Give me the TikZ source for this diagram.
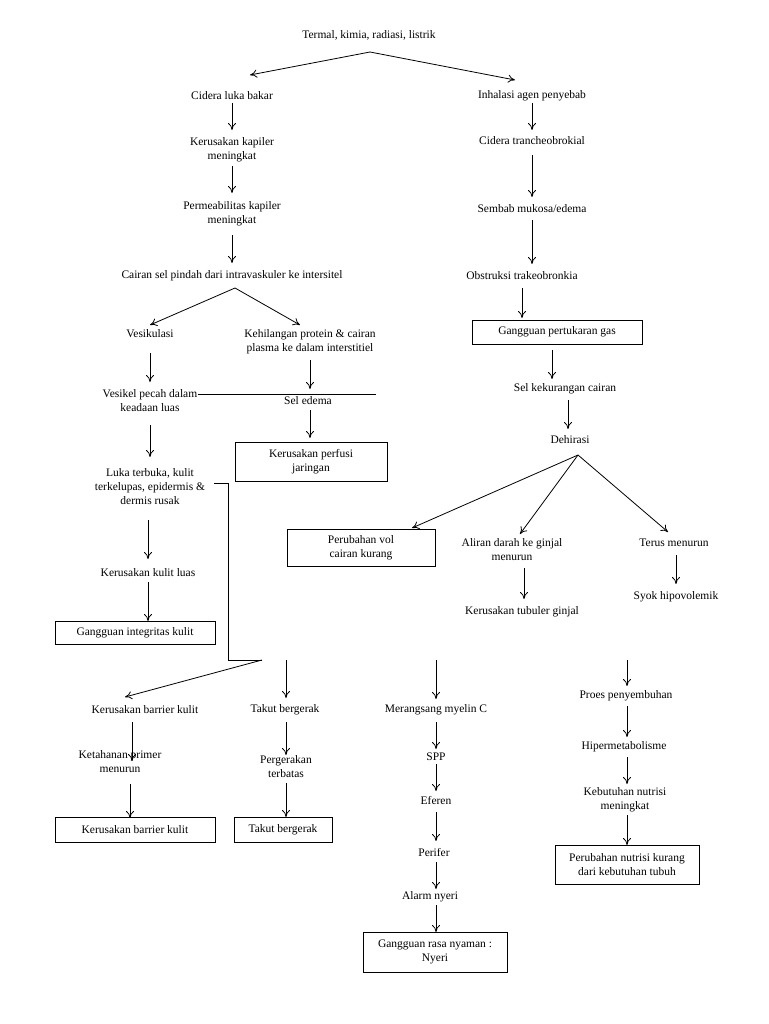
\documentclass[tikz,border=0pt]{standalone}
\usepackage{fontspec}
\setmainfont{Liberation Serif}
\usetikzlibrary{arrows.meta}
\begin{document}
\begin{tikzpicture}[x=1pt,y=-1pt,
 t/.style={align=center,inner sep=1pt,font=\fontsize{11.5}{14}\selectfont},
 b/.style={t,draw,thick,inner sep=0pt},
 a/.style={-{To[length=7pt,width=8pt]},thick},
 l/.style={thick}]
\useasboundingbox (0,0) rectangle (768,1024);
\node[t] (top) at (369,35) {Termal, kimia, radiasi, listrik};
\coordinate (topc) at (370,52);
\node[t] (c1) at (232,96) {Cidera luka bakar};
\node[t] (c2) at (232,150) {Kerusakan kapiler\\meningkat};
\node[t] (c3) at (232,214) {Permeabilitas kapiler\\meningkat};
\node[t] (c4) at (232,276) {Cairan sel pindah dari intravaskuler ke intersitel};
\node[t] (v1) at (150,334) {Vesikulasi};
\node[t] (k1) at (310,342) {Kehilangan protein \& cairan\\plasma ke dalam interstitiel};
\node[t] (v2) at (150,401) {Vesikel pecah dalam\\keadaan luas};
\node[t] (se) at (308,401) {Sel edema};
\node[b,minimum width=152pt,minimum height=39pt] (kp) at (311,462) {Kerusakan perfusi\\jaringan};
\node[t] (lk) at (150,487) {Luka terbuka, kulit\\terkelupas, epidermis \&\\dermis rusak};
\node[t] (kk) at (148,573) {Kerusakan kulit luas};
\node[b,minimum width=160pt,minimum height=23pt] (gi) at (135,633) {Gangguan integritas kulit};
\node[t] (r1) at (532,96) {Inhalasi agen penyebab};
\node[t] (r2) at (532,141) {Cidera trancheobrokial};
\node[t] (r3) at (532,209) {Sembab mukosa/edema};
\node[t] (r4) at (522,276) {Obstruksi trakeobronkia};
\node[b,minimum width=170pt,minimum height=24pt] (gp) at (557,332) {Gangguan pertukaran gas};
\node[t] (sk) at (565,389) {Sel kekurangan cairan};
\node[t] (dh) at (570,440) {Dehirasi};
\node[b,minimum width=148pt,minimum height=37pt] (pv) at (361,548) {Perubahan vol\\cairan kurang};
\node[t] (ad) at (512,550) {Aliran darah ke ginjal\\menurun};
\node[t] (kt) at (522,612) {Kerusakan tubuler ginjal};
\node[t] (tm) at (674,543) {Terus menurun};
\node[t] (sh) at (676,597) {Syok hipovolemik};
\node[t] (kb) at (145,710) {Kerusakan barrier kulit};
\node[t] (tb) at (285,710) {Takut bergerak};
\node[t] (kpm) at (120,762) {Ketahanan primer\\menurun};
\node[b,minimum width=160pt,minimum height=25pt] (kbb) at (135,830) {Kerusakan barrier kulit};
\node[t] (pg) at (286,767) {Pergerakan\\terbatas};
\node[b,minimum width=98pt,minimum height=25pt] (tbb) at (283,830) {Takut bergerak};
\node[t] (mm) at (436,710) {Merangsang myelin C};
\node[t] (spp) at (436,757) {SPP};
\node[t] (ef) at (436,800) {Eferen};
\node[t] (pf) at (434,852) {Perifer};
\node[t] (an) at (430,897) {Alarm nyeri};
\node[b,minimum width=144pt,minimum height=40pt] (gr) at (435,952) {Gangguan rasa nyaman :\\Nyeri};
\node[t] (pp) at (626,696) {Proes penyembuhan};
\node[t] (hm) at (624,747) {Hipermetabolisme};
\node[t] (kn) at (625,800) {Kebutuhan nutrisi\\meningkat};
\node[b,minimum width=144pt,minimum height=39pt] (pn) at (627,865) {Perubahan nutrisi kurang\\dari kebutuhan tubuh};
\coordinate (split) at (262,660);
\coordinate (dhc) at (578,455);
\coordinate (c4c) at (235,288);
% arrows
\draw[a] (topc) -- (250,75);
\draw[a] (topc) -- (515,80);
\draw[a] (232,103) -- (232,130);
\draw[a] (232,166) -- (232,193);
\draw[a] (232,235) -- (232,263);
\draw[a] (c4c) -- (150,325);
\draw[a] (c4c) -- (300,325);
\draw[a] (150,353) -- (150,382);
\draw[a] (310,360) -- (310,389);
\draw[l] (198,394) -- (376,394);
\draw[a] (310,410) -- (310,438);
\draw[a] (150,425) -- (150,457);
\draw[l] (214,483) -- (228,483) -- (228,660) -- (split);
\draw[a] (148,520) -- (148,559);
\draw[a] (148,582) -- (148,621);
\draw[a] (532,103) -- (532,130);
\draw[a] (532,155) -- (532,197);
\draw[a] (532,220) -- (532,264);
\draw[a] (522,288) -- (522,318);
\draw[a] (552,350) -- (552,379);
\draw[a] (568,400) -- (568,429);
\draw[a] (dhc) -- (412,528);
\draw[a] (dhc) -- (520,534);
\draw[a] (dhc) -- (668,532);
\draw[a] (524,568) -- (524,599);
\draw[a] (676,555) -- (676,584);
\draw[a] (split) -- (125,697);
\draw[a] (286,660) -- (286,698);
\draw[a] (132,722) -- (132,761);
\draw[a] (130,784) -- (130,818);
\draw[a] (286,722) -- (286,755);
\draw[a] (286,783) -- (286,817);
\draw[a] (436,660) -- (436,699);
\draw[a] (436,722) -- (436,749);
\draw[a] (436,764) -- (436,791);
\draw[a] (436,812) -- (436,841);
\draw[a] (436,862) -- (436,889);
\draw[a] (436,905) -- (436,932);
\draw[a] (627,660) -- (627,686);
\draw[a] (627,706) -- (627,737);
\draw[a] (627,757) -- (627,784);
\draw[a] (627,815) -- (627,845);
\end{tikzpicture}
\end{document}
